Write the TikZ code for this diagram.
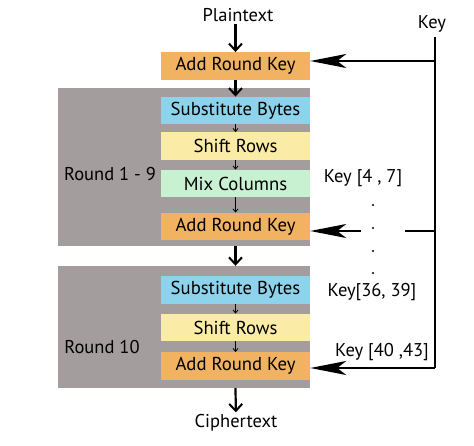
\documentclass[tikz,border=0pt]{standalone}
\usepackage{fontspec}
\setmainfont{PT Sans}
\usepackage{tikz}
\usetikzlibrary{shapes.geometric, arrows, arrows.meta}
\definecolor{arkorange}{HTML}{F1B262}
\definecolor{subblue}{HTML}{8DD3EB}
\definecolor{shiftyellow}{HTML}{FAEBA6}
\definecolor{mixgreen}{HTML}{C7F1D0}
\definecolor{roundgrey}{HTML}{A39D9D}
\tikzstyle{stageBox} = [rectangle, minimum width=149pt, minimum height=27.5pt, text centered, inner sep=0pt, font=\fontsize{18.7}{21}\selectfont]
\tikzstyle{arkBox} = [stageBox, fill=arkorange]
\tikzstyle{subBox} = [stageBox, fill=subblue]
\tikzstyle{shiftBox} = [stageBox, fill=shiftyellow]
\tikzstyle{mixBox} = [stageBox, fill=mixgreen]
\tikzstyle{roundBox} = [rectangle, minimum width=252pt, inner sep=0pt, fill=roundgrey]
\tikzstyle{txt} = [font=\fontsize{18.5}{21}\selectfont, inner sep=2pt]
\tikzstyle{arrow} = [line width=2.2pt,-{Straight Barb[length=7pt,width=13pt,line width=2pt]}]
\tikzstyle{arrowSmall} = [line width=0.8pt,-{Straight Barb[length=3pt,width=5pt]}]
\tikzstyle{keyline} = [line width=2pt]
\tikzstyle{arrowKey} = [line width=2pt,-{Stealth[length=36pt,width=14pt,inset=9pt]}]
\begin{document}
\begin{tikzpicture}[x=1pt, y=-1pt, node distance=37.5pt]
		\useasboundingbox (0,0) rectangle (474,446);
		
		\node (round19) [roundBox, minimum height=158pt] at (184,167) {};
		\node (round10) [roundBox, minimum height=122pt] at (184,327) {};
		\node (lab19) [txt] at (110,174) {Round 1 - 9};
		\node (lab10) [txt] at (102,347) {Round 10};
		
		\node (ark1) [arkBox] at (235.5,66) {Add Round Key};
		\node (sub1) [subBox, below of=ark1, yshift=-7pt] {Substitute Bytes};
		\node (shift1) [shiftBox, below of=sub1, yshift=2pt] {Shift Rows};
		\node (mix1) [mixBox, below of=shift1] {Mix Columns};
		\node (ark2) [arkBox, below of=mix1, yshift=-5.5pt] {Add Round Key};
		
		\node (sub2) [subBox, below of=ark2, yshift=-26pt] {Substitute Bytes};
		\node (shift2) [shiftBox, below of=sub2] {Shift Rows};
		\node (ark3) [arkBox, below of=shift2, yshift=-1pt] {Add Round Key};
		
		\node (plain) [txt] at (238,15) {Plaintext};
		\node (cipher) [txt] at (236,423) {Ciphertext};
		\node (key) [txt] at (432,24) {Key};
		
		\node (k47) [txt] at (363,178) {Key [4 , 7]};
		\node (k3639) [txt] at (372,292) {Key[36, 39]};
		\node (k4043) [txt] at (382,352) {Key [40 ,43]};
		
		\foreach \y in {205,228,251,273}
			\fill (373,\y) circle (1.1pt);
		
		\coordinate (ktop) at (435,37);
		\coordinate (kone) at (435,61);
		\coordinate (ktwo) at (435,231);
		\coordinate (kbot) at (435,368);
		\coordinate (gapR) at (405,231);
		\coordinate (gapL) at (361,231);
		
		\draw [arrow] (plain.south -| ark1.center) -- (ark1);
		\draw [arrow] (ark1) -- (sub1);
		\draw [arrowSmall] (sub1) -- (shift1);
		\draw [arrowSmall] (shift1) -- (mix1);
		\draw [arrowSmall] (mix1) -- (ark2);
		\draw [arrow] (ark2.center |- round19.south) -- (ark2.center |- round10.north);
		\draw [arrowSmall] (sub2) -- (shift2);
		\draw [arrowSmall] (shift2) -- (ark3);
		\draw [arrow] (ark3.center |- round10.south) -- (cipher);
		
		\draw [keyline] (ktop) -- (kbot);
		\draw [arrowKey] (kone) -- (kone -| ark1.east);
		\draw [keyline] (ktwo) -- (gapR);
		\draw [arrowKey] (gapL) -- (gapL -| ark2.east);
		\draw [arrowKey] (kbot) -- (kbot -| ark3.east);
		
		\end{tikzpicture}
\end{document}
